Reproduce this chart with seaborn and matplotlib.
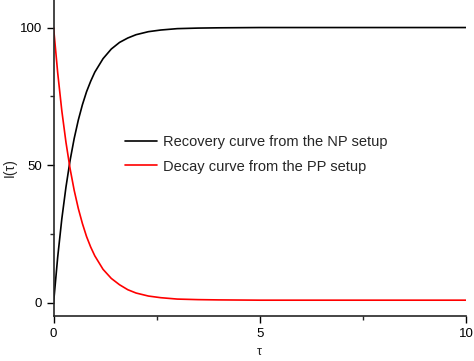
import seaborn as sns
import matplotlib.pyplot as plt
import pandas as pd
from matplotlib.ticker import MultipleLocator

# values
tau = [0, 0.1, 0.2, 0.3, 0.4, 0.5, 0.6, 0.7, 0.8, 0.9, 1.0, 1.2, 1.4, 1.6, 1.8,
       2.0, 2.3, 2.6, 3.0, 3.5, 4.0, 5.0, 6.0, 8.0, 10.0]
recovery = [0, 16.6, 30.5, 42.0, 51.7, 59.7, 66.4, 72.0, 76.7, 80.5, 83.8, 88.7,
            92.2, 94.6, 96.2, 97.4, 98.5, 99.1, 99.6, 99.8, 99.9, 100, 100, 100, 100]
decay = [100, 83.6, 69.8, 58.4, 48.8, 40.9, 34.3, 28.8, 24.1, 20.3, 17.1, 12.2,
         8.9, 6.6, 4.8, 3.6, 2.5, 1.9, 1.4, 1.2, 1.1, 1.0, 1.0, 1.0, 1.0]
labels = ["Recovery curve from the NP setup", "Decay curve from the PP setup"]

df = pd.concat([
    pd.DataFrame({"tau": tau, "I": recovery, "curve": labels[0]}),
    pd.DataFrame({"tau": tau, "I": decay, "curve": labels[1]}),
])

sns.set_style("ticks")
plt.rcParams["font.family"] = ["Liberation Sans", "DejaVu Sans"]
plt.rcParams["xtick.direction"] = "out"
plt.rcParams["ytick.direction"] = "out"

fig = plt.figure(figsize=(4.74, 3.61), dpi=100)
ax = fig.add_axes([0.113, 0.125, 0.870, 0.875])
sns.lineplot(data=df, x="tau", y="I", hue="curve", palette=["black", "red"],
             linewidth=1.2, ax=ax, sort=False)

ax.set_xlim(0, 10)
ax.set_ylim(-4.7, 110)
ax.xaxis.set_major_locator(MultipleLocator(5))
ax.xaxis.set_minor_locator(MultipleLocator(2.5))
ax.yaxis.set_major_locator(MultipleLocator(50))
ax.yaxis.set_minor_locator(MultipleLocator(25))
ax.tick_params(which="major", length=5, width=1, labelsize=9.5, colors="black")
ax.tick_params(which="minor", length=3, width=1)
for s in ["left", "bottom"]:
    ax.spines[s].set_linewidth(1.2)
sns.despine(ax=ax)

ax.set_xlabel("τ", fontsize=9)
ax.set_ylabel("I(τ)", fontsize=10)
ax.xaxis.set_label_coords(0.5, -0.095)
ax.yaxis.set_label_coords(-0.09, 0.47)

ax.legend(loc="center left", bbox_to_anchor=(0.173, 0.511), frameon=False,
          borderaxespad=0, borderpad=0, handlelength=2.2, handletextpad=0.4,
          labelspacing=0.7, fontsize=10.5)

fig.savefig("out.png", dpi=100)
